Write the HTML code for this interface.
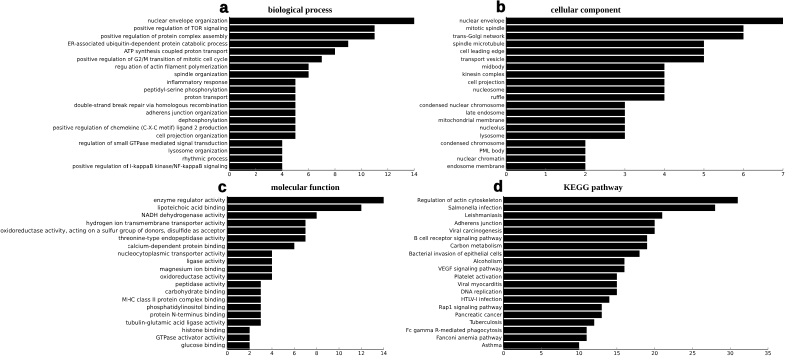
<!DOCTYPE html>
<html><head><meta charset="utf-8"><title>GO and KEGG enrichment</title>
<style>
html,body{margin:0;padding:0;background:#fff}
.stage{width:785px;height:356px;overflow:hidden;position:relative}
svg{display:block;text-rendering:geometricPrecision;will-change:transform;transform:scale(0.5);transform-origin:0 0}
.lab{font-family:"DejaVu Sans","Liberation Sans",sans-serif;fill:#000;text-anchor:end}
.tick{font-family:"DejaVu Sans","Liberation Sans",sans-serif;fill:#000;text-anchor:middle}
.ttl{font-family:"Liberation Serif",serif;font-weight:bold;fill:#000}
.pl{font-family:"Liberation Sans",sans-serif;font-weight:bold;fill:#000;stroke:#000;stroke-width:5;stroke-linejoin:round}
.bar{fill:#000}
.ax{stroke:#777;fill:none}
</style></head><body>
<div class="stage"><svg width="1570" height="712" viewBox="0 0 785 356">
<rect width="785" height="356" fill="#fff"/>

<g id="panel-a">
<text class="pl" transform="translate(219.50 12.40) scale(0.1)" font-size="157.0">a</text>
<text class="ttl" transform="translate(268 12.5) scale(0.1)" font-size="85.5">biological process</text>
<rect class="bar" x="229.00" y="17.65" width="185.20" height="6.45"/>
<text class="lab" transform="translate(227.60 22.56) scale(0.1)" font-size="52.7">nuclear envelope organization</text>
<rect class="bar" x="229.00" y="25.30" width="145.60" height="6.45"/>
<text class="lab" transform="translate(227.60 30.22) scale(0.1)" font-size="52.7">positive regulation of TOR signaling</text>
<rect class="bar" x="229.00" y="32.96" width="145.60" height="6.45"/>
<text class="lab" transform="translate(227.60 37.87) scale(0.1)" font-size="52.7">positive regulation of protein complex assembly</text>
<rect class="bar" x="229.00" y="40.62" width="119.20" height="6.45"/>
<text class="lab" transform="translate(227.60 45.53) scale(0.1)" font-size="52.7">ER-associated ubiquitin-dependent protein catabolic process</text>
<rect class="bar" x="229.00" y="48.27" width="106.00" height="6.45"/>
<text class="lab" transform="translate(227.60 53.18) scale(0.1)" font-size="52.7">ATP synthesis coupled proton transport</text>
<rect class="bar" x="229.00" y="55.93" width="92.80" height="6.45"/>
<text class="lab" transform="translate(227.60 60.84) scale(0.1)" font-size="52.7">positive regulation of G2/M transition of mitotic cell cycle</text>
<rect class="bar" x="229.00" y="63.58" width="79.60" height="6.45"/>
<text class="lab" transform="translate(227.60 68.49) scale(0.1)" font-size="52.7">regulation of actin filament polymerization</text>
<rect class="bar" x="229.00" y="71.23" width="79.60" height="6.45"/>
<text class="lab" transform="translate(227.60 76.15) scale(0.1)" font-size="52.7">spindle organization</text>
<rect class="bar" x="229.00" y="78.89" width="66.40" height="6.45"/>
<text class="lab" transform="translate(227.60 83.80) scale(0.1)" font-size="52.7">inflammatory response</text>
<rect class="bar" x="229.00" y="86.54" width="66.40" height="6.45"/>
<text class="lab" transform="translate(227.60 91.46) scale(0.1)" font-size="52.7">peptidyl-serine phosphorylation</text>
<rect class="bar" x="229.00" y="94.20" width="66.40" height="6.45"/>
<text class="lab" transform="translate(227.60 99.11) scale(0.1)" font-size="52.7">proton transport</text>
<rect class="bar" x="229.00" y="101.85" width="66.40" height="6.45"/>
<text class="lab" transform="translate(227.60 106.77) scale(0.1)" font-size="52.7">double-strand break repair via homologous recombination</text>
<rect class="bar" x="229.00" y="109.51" width="66.40" height="6.45"/>
<text class="lab" transform="translate(227.60 114.42) scale(0.1)" font-size="52.7">adherens junction organization</text>
<rect class="bar" x="229.00" y="117.16" width="66.40" height="6.45"/>
<text class="lab" transform="translate(227.60 122.08) scale(0.1)" font-size="52.7">dephosphorylation</text>
<rect class="bar" x="229.00" y="124.82" width="66.40" height="6.45"/>
<text class="lab" transform="translate(227.60 129.73) scale(0.1)" font-size="52.7">positive regulation of chemokine (C-X-C motif) ligand 2 production</text>
<rect class="bar" x="229.00" y="132.47" width="66.40" height="6.45"/>
<text class="lab" transform="translate(227.60 137.39) scale(0.1)" font-size="52.7">cell projection organization</text>
<rect class="bar" x="229.00" y="140.13" width="53.20" height="6.45"/>
<text class="lab" transform="translate(227.60 145.04) scale(0.1)" font-size="52.7">regulation of small GTPase mediated signal transduction</text>
<rect class="bar" x="229.00" y="147.78" width="53.20" height="6.45"/>
<text class="lab" transform="translate(227.60 152.70) scale(0.1)" font-size="52.7">lysosome organization</text>
<rect class="bar" x="229.00" y="155.44" width="53.20" height="6.45"/>
<text class="lab" transform="translate(227.60 160.35) scale(0.1)" font-size="52.7">rhythmic process</text>
<rect class="bar" x="229.00" y="163.09" width="53.20" height="6.45"/>
<text class="lab" transform="translate(227.60 168.01) scale(0.1)" font-size="52.7">positive regulation of I-kappaB kinase/NF-kappaB signaling</text>
<path class="ax" stroke-width="0.8" d="M229.40 170.3H414.20"/>
<path stroke="#111" fill="none" stroke-width="0.8" d="M229.40 16.85V170.3"/>
<path stroke="#000" fill="none" stroke-width="0.8" d="M229.40 170.3H282.20"/>
<text class="tick" transform="translate(229.40 175.9) scale(0.1)" font-size="52.5">0</text>
<text class="tick" transform="translate(255.80 175.9) scale(0.1)" font-size="52.5">2</text>
<text class="tick" transform="translate(282.20 175.9) scale(0.1)" font-size="52.5">4</text>
<text class="tick" transform="translate(308.60 175.9) scale(0.1)" font-size="52.5">6</text>
<text class="tick" transform="translate(335.00 175.9) scale(0.1)" font-size="52.5">8</text>
<text class="tick" transform="translate(361.40 175.9) scale(0.1)" font-size="52.5">10</text>
<text class="tick" transform="translate(387.80 175.9) scale(0.1)" font-size="52.5">12</text>
<text class="tick" transform="translate(414.20 175.9) scale(0.1)" font-size="52.5">14</text>
<path class="ax" stroke-width="0.5" d="M229.40 170.3v-2M255.80 170.3v-2M282.20 170.3v-2M308.60 170.3v-2M335.00 170.3v-2M361.40 170.3v-2M387.80 170.3v-2M414.20 170.3v-2"/>
</g>
<g id="panel-b">
<text class="pl" transform="translate(496.00 11.90) scale(0.1)" font-size="157.0">b</text>
<text class="ttl" transform="translate(550.8 12.5) scale(0.1)" font-size="85.5">cellular component</text>
<rect class="bar" x="505.90" y="17.65" width="277.11" height="6.45"/>
<text class="lab" transform="translate(504.50 22.55) scale(0.1)" font-size="52.2">nuclear envelope</text>
<rect class="bar" x="505.90" y="25.30" width="237.58" height="6.45"/>
<text class="lab" transform="translate(504.50 30.20) scale(0.1)" font-size="52.2">mitotic spindle</text>
<rect class="bar" x="505.90" y="32.96" width="237.58" height="6.45"/>
<text class="lab" transform="translate(504.50 37.86) scale(0.1)" font-size="52.2">trans-Golgi network</text>
<rect class="bar" x="505.90" y="40.62" width="198.05" height="6.45"/>
<text class="lab" transform="translate(504.50 45.51) scale(0.1)" font-size="52.2">spindle microtubule</text>
<rect class="bar" x="505.90" y="48.27" width="198.05" height="6.45"/>
<text class="lab" transform="translate(504.50 53.17) scale(0.1)" font-size="52.2">cell leading edge</text>
<rect class="bar" x="505.90" y="55.93" width="198.05" height="6.45"/>
<text class="lab" transform="translate(504.50 60.82) scale(0.1)" font-size="52.2">transport vesicle</text>
<rect class="bar" x="505.90" y="63.58" width="158.52" height="6.45"/>
<text class="lab" transform="translate(504.50 68.48) scale(0.1)" font-size="52.2">midbody</text>
<rect class="bar" x="505.90" y="71.23" width="158.52" height="6.45"/>
<text class="lab" transform="translate(504.50 76.13) scale(0.1)" font-size="52.2">kinesin complex</text>
<rect class="bar" x="505.90" y="78.89" width="158.52" height="6.45"/>
<text class="lab" transform="translate(504.50 83.79) scale(0.1)" font-size="52.2">cell projection</text>
<rect class="bar" x="505.90" y="86.54" width="158.52" height="6.45"/>
<text class="lab" transform="translate(504.50 91.44) scale(0.1)" font-size="52.2">nucleosome</text>
<rect class="bar" x="505.90" y="94.20" width="158.52" height="6.45"/>
<text class="lab" transform="translate(504.50 99.10) scale(0.1)" font-size="52.2">ruffle</text>
<rect class="bar" x="505.90" y="101.85" width="118.99" height="6.45"/>
<text class="lab" transform="translate(504.50 106.75) scale(0.1)" font-size="52.2">condensed nuclear chromosome</text>
<rect class="bar" x="505.90" y="109.51" width="118.99" height="6.45"/>
<text class="lab" transform="translate(504.50 114.41) scale(0.1)" font-size="52.2">late endosome</text>
<rect class="bar" x="505.90" y="117.16" width="118.99" height="6.45"/>
<text class="lab" transform="translate(504.50 122.06) scale(0.1)" font-size="52.2">mitochondrial membrane</text>
<rect class="bar" x="505.90" y="124.82" width="118.99" height="6.45"/>
<text class="lab" transform="translate(504.50 129.72) scale(0.1)" font-size="52.2">nucleolus</text>
<rect class="bar" x="505.90" y="132.47" width="118.99" height="6.45"/>
<text class="lab" transform="translate(504.50 137.37) scale(0.1)" font-size="52.2">lysosome</text>
<rect class="bar" x="505.90" y="140.13" width="79.46" height="6.45"/>
<text class="lab" transform="translate(504.50 145.03) scale(0.1)" font-size="52.2">condensed chromosome</text>
<rect class="bar" x="505.90" y="147.78" width="79.46" height="6.45"/>
<text class="lab" transform="translate(504.50 152.68) scale(0.1)" font-size="52.2">PML body</text>
<rect class="bar" x="505.90" y="155.44" width="79.46" height="6.45"/>
<text class="lab" transform="translate(504.50 160.34) scale(0.1)" font-size="52.2">nuclear chromatin</text>
<rect class="bar" x="505.90" y="163.09" width="79.46" height="6.45"/>
<text class="lab" transform="translate(504.50 167.99) scale(0.1)" font-size="52.2">endosome membrane</text>
<path class="ax" stroke-width="0.8" d="M506.30 170.3H783.01"/>
<path stroke="#111" fill="none" stroke-width="0.8" d="M506.30 16.85V170.3"/>
<path stroke="#000" fill="none" stroke-width="0.8" d="M506.30 170.3H585.36"/>
<text class="tick" transform="translate(506.30 175.9) scale(0.1)" font-size="52.5">0</text>
<text class="tick" transform="translate(545.83 175.9) scale(0.1)" font-size="52.5">1</text>
<text class="tick" transform="translate(585.36 175.9) scale(0.1)" font-size="52.5">2</text>
<text class="tick" transform="translate(624.89 175.9) scale(0.1)" font-size="52.5">3</text>
<text class="tick" transform="translate(664.42 175.9) scale(0.1)" font-size="52.5">4</text>
<text class="tick" transform="translate(703.95 175.9) scale(0.1)" font-size="52.5">5</text>
<text class="tick" transform="translate(743.48 175.9) scale(0.1)" font-size="52.5">6</text>
<text class="tick" transform="translate(783.01 175.9) scale(0.1)" font-size="52.5">7</text>
<path class="ax" stroke-width="0.5" d="M506.30 170.3v-2M545.83 170.3v-2M585.36 170.3v-2M624.89 170.3v-2M664.42 170.3v-2M703.95 170.3v-2M743.48 170.3v-2M783.01 170.3v-2"/>
</g>
<g id="panel-c">
<text class="pl" transform="translate(217.90 191.90) scale(0.1)" font-size="157.0">c</text>
<text class="ttl" transform="translate(271.0 190.0) scale(0.1)" font-size="85.0">molecular function</text>
<rect class="bar" x="226.90" y="196.92" width="156.78" height="6.45"/>
<text class="lab" transform="translate(225.20 201.93) scale(0.1)" font-size="55.8">enzyme regulator activity</text>
<rect class="bar" x="226.90" y="204.57" width="134.44" height="6.45"/>
<text class="lab" transform="translate(225.20 209.57) scale(0.1)" font-size="55.8">lipoteichoic acid binding</text>
<rect class="bar" x="226.90" y="212.21" width="89.76" height="6.45"/>
<text class="lab" transform="translate(225.20 217.22) scale(0.1)" font-size="55.8">NADH dehydrogenase activity</text>
<rect class="bar" x="226.90" y="219.86" width="78.59" height="6.45"/>
<text class="lab" transform="translate(225.20 224.87) scale(0.1)" font-size="55.8">hydrogen ion transmembrane transporter activity</text>
<rect class="bar" x="226.90" y="227.51" width="78.59" height="6.45"/>
<text class="lab" transform="translate(225.20 232.51) scale(0.1)" font-size="55.8">oxidoreductase activity, acting on a sulfur group of donors, disulfide as acceptor</text>
<rect class="bar" x="226.90" y="235.15" width="78.59" height="6.45"/>
<text class="lab" transform="translate(225.20 240.16) scale(0.1)" font-size="55.8">threonine-type endopeptidase activity</text>
<rect class="bar" x="226.90" y="242.80" width="67.42" height="6.45"/>
<text class="lab" transform="translate(225.20 247.81) scale(0.1)" font-size="55.8">calcium-dependent protein binding</text>
<rect class="bar" x="226.90" y="250.45" width="45.08" height="6.45"/>
<text class="lab" transform="translate(225.20 255.45) scale(0.1)" font-size="55.8">nucleocytoplasmic transporter activity</text>
<rect class="bar" x="226.90" y="258.09" width="45.08" height="6.45"/>
<text class="lab" transform="translate(225.20 263.10) scale(0.1)" font-size="55.8">ligase activity</text>
<rect class="bar" x="226.90" y="265.74" width="45.08" height="6.45"/>
<text class="lab" transform="translate(225.20 270.75) scale(0.1)" font-size="55.8">magnesium ion binding</text>
<rect class="bar" x="226.90" y="273.38" width="45.08" height="6.45"/>
<text class="lab" transform="translate(225.20 278.39) scale(0.1)" font-size="55.8">oxidoreductase activity</text>
<rect class="bar" x="226.90" y="281.03" width="33.91" height="6.45"/>
<text class="lab" transform="translate(225.20 286.04) scale(0.1)" font-size="55.8">peptidase activity</text>
<rect class="bar" x="226.90" y="288.68" width="33.91" height="6.45"/>
<text class="lab" transform="translate(225.20 293.69) scale(0.1)" font-size="55.8">carbohydrate binding</text>
<rect class="bar" x="226.90" y="296.32" width="33.91" height="6.45"/>
<text class="lab" transform="translate(225.20 301.33) scale(0.1)" font-size="55.8">MHC class II protein complex binding</text>
<rect class="bar" x="226.90" y="303.97" width="33.91" height="6.45"/>
<text class="lab" transform="translate(225.20 308.98) scale(0.1)" font-size="55.8">phosphatidylinositol binding</text>
<rect class="bar" x="226.90" y="311.62" width="33.91" height="6.45"/>
<text class="lab" transform="translate(225.20 316.62) scale(0.1)" font-size="55.8">protein N-terminus binding</text>
<rect class="bar" x="226.90" y="319.26" width="33.91" height="6.45"/>
<text class="lab" transform="translate(225.20 324.27) scale(0.1)" font-size="55.8">tubulin-glutamic acid ligase activity</text>
<rect class="bar" x="226.90" y="326.91" width="22.74" height="6.45"/>
<text class="lab" transform="translate(225.20 331.92) scale(0.1)" font-size="55.8">histone binding</text>
<rect class="bar" x="226.90" y="334.56" width="22.74" height="6.45"/>
<text class="lab" transform="translate(225.20 339.56) scale(0.1)" font-size="55.8">GTPase activator activity</text>
<rect class="bar" x="226.90" y="342.20" width="22.74" height="6.45"/>
<text class="lab" transform="translate(225.20 347.21) scale(0.1)" font-size="55.8">glucose binding</text>
<path class="ax" stroke-width="0.8" d="M227.30 349.45H383.68"/>
<path stroke="#111" fill="none" stroke-width="0.8" d="M227.30 196.12V349.45"/>
<path stroke="#000" fill="none" stroke-width="0.8" d="M227.30 349.45H249.64"/>
<text class="tick" transform="translate(227.30 354.9) scale(0.1)" font-size="52.5">0</text>
<text class="tick" transform="translate(249.64 354.9) scale(0.1)" font-size="52.5">2</text>
<text class="tick" transform="translate(271.98 354.9) scale(0.1)" font-size="52.5">4</text>
<text class="tick" transform="translate(294.32 354.9) scale(0.1)" font-size="52.5">6</text>
<text class="tick" transform="translate(316.66 354.9) scale(0.1)" font-size="52.5">8</text>
<text class="tick" transform="translate(339.00 354.9) scale(0.1)" font-size="52.5">10</text>
<text class="tick" transform="translate(361.34 354.9) scale(0.1)" font-size="52.5">12</text>
<text class="tick" transform="translate(383.68 354.9) scale(0.1)" font-size="52.5">14</text>
<path class="ax" stroke-width="0.5" d="M227.30 349.45v-2M249.64 349.45v-2M271.98 349.45v-2M294.32 349.45v-2M316.66 349.45v-2M339.00 349.45v-2M361.34 349.45v-2M383.68 349.45v-2"/>
</g>
<g id="panel-d">
<text class="pl" transform="translate(493.40 191.50) scale(0.1)" font-size="157.0">d</text>
<text class="ttl" transform="translate(563.6 190.0) scale(0.1)" font-size="85.5">KEGG pathway</text>
<rect class="bar" x="503.15" y="196.92" width="234.64" height="6.45"/>
<text class="lab" transform="translate(501.85 201.83) scale(0.1)" font-size="52.6">Regulation of actin cytoskeleton</text>
<rect class="bar" x="503.15" y="204.57" width="211.97" height="6.45"/>
<text class="lab" transform="translate(501.85 209.47) scale(0.1)" font-size="52.6">Salmonella infection</text>
<rect class="bar" x="503.15" y="212.21" width="159.08" height="6.45"/>
<text class="lab" transform="translate(501.85 217.12) scale(0.1)" font-size="52.6">Leishmaniasis</text>
<rect class="bar" x="503.15" y="219.86" width="151.52" height="6.45"/>
<text class="lab" transform="translate(501.85 224.77) scale(0.1)" font-size="52.6">Adherens junction</text>
<rect class="bar" x="503.15" y="227.51" width="151.52" height="6.45"/>
<text class="lab" transform="translate(501.85 232.41) scale(0.1)" font-size="52.6">Viral carcinogenesis</text>
<rect class="bar" x="503.15" y="235.15" width="143.96" height="6.45"/>
<text class="lab" transform="translate(501.85 240.06) scale(0.1)" font-size="52.6">B cell receptor signaling pathway</text>
<rect class="bar" x="503.15" y="242.80" width="143.96" height="6.45"/>
<text class="lab" transform="translate(501.85 247.71) scale(0.1)" font-size="52.6">Carbon metabolism</text>
<rect class="bar" x="503.15" y="250.45" width="136.41" height="6.45"/>
<text class="lab" transform="translate(501.85 255.35) scale(0.1)" font-size="52.6">Bacterial invasion of epithelial cells</text>
<rect class="bar" x="503.15" y="258.09" width="121.30" height="6.45"/>
<text class="lab" transform="translate(501.85 263.00) scale(0.1)" font-size="52.6">Alcoholism</text>
<rect class="bar" x="503.15" y="265.74" width="121.30" height="6.45"/>
<text class="lab" transform="translate(501.85 270.64) scale(0.1)" font-size="52.6">VEGF signaling pathway</text>
<rect class="bar" x="503.15" y="273.38" width="113.74" height="6.45"/>
<text class="lab" transform="translate(501.85 278.29) scale(0.1)" font-size="52.6">Platelet activation</text>
<rect class="bar" x="503.15" y="281.03" width="113.74" height="6.45"/>
<text class="lab" transform="translate(501.85 285.94) scale(0.1)" font-size="52.6">Viral myocarditis</text>
<rect class="bar" x="503.15" y="288.68" width="113.74" height="6.45"/>
<text class="lab" transform="translate(501.85 293.58) scale(0.1)" font-size="52.6">DNA replication</text>
<rect class="bar" x="503.15" y="296.32" width="106.18" height="6.45"/>
<text class="lab" transform="translate(501.85 301.23) scale(0.1)" font-size="52.6">HTLV-I infection</text>
<rect class="bar" x="503.15" y="303.97" width="98.63" height="6.45"/>
<text class="lab" transform="translate(501.85 308.88) scale(0.1)" font-size="52.6">Rap1 signaling pathway</text>
<rect class="bar" x="503.15" y="311.62" width="98.63" height="6.45"/>
<text class="lab" transform="translate(501.85 316.52) scale(0.1)" font-size="52.6">Pancreatic cancer</text>
<rect class="bar" x="503.15" y="319.26" width="91.07" height="6.45"/>
<text class="lab" transform="translate(501.85 324.17) scale(0.1)" font-size="52.6">Tuberculosis</text>
<rect class="bar" x="503.15" y="326.91" width="83.52" height="6.45"/>
<text class="lab" transform="translate(501.85 331.82) scale(0.1)" font-size="52.6">Fc gamma R-mediated phagocytosis</text>
<rect class="bar" x="503.15" y="334.56" width="83.52" height="6.45"/>
<text class="lab" transform="translate(501.85 339.46) scale(0.1)" font-size="52.6">Fanconi anemia pathway</text>
<rect class="bar" x="503.15" y="342.20" width="75.96" height="6.45"/>
<text class="lab" transform="translate(501.85 347.11) scale(0.1)" font-size="52.6">Asthma</text>
<path class="ax" stroke-width="0.8" d="M503.55 349.45H768.01"/>
<path stroke="#111" fill="none" stroke-width="0.8" d="M503.55 196.12V349.45"/>
<path stroke="#000" fill="none" stroke-width="0.8" d="M503.55 349.45H579.11"/>
<text class="tick" transform="translate(503.55 354.9) scale(0.1)" font-size="52.5">0</text>
<text class="tick" transform="translate(541.33 354.9) scale(0.1)" font-size="52.5">5</text>
<text class="tick" transform="translate(579.11 354.9) scale(0.1)" font-size="52.5">10</text>
<text class="tick" transform="translate(616.89 354.9) scale(0.1)" font-size="52.5">15</text>
<text class="tick" transform="translate(654.67 354.9) scale(0.1)" font-size="52.5">20</text>
<text class="tick" transform="translate(692.45 354.9) scale(0.1)" font-size="52.5">25</text>
<text class="tick" transform="translate(730.23 354.9) scale(0.1)" font-size="52.5">30</text>
<text class="tick" transform="translate(768.01 354.9) scale(0.1)" font-size="52.5">35</text>
<path class="ax" stroke-width="0.5" d="M503.55 349.45v-2M541.33 349.45v-2M579.11 349.45v-2M616.89 349.45v-2M654.67 349.45v-2M692.45 349.45v-2M730.23 349.45v-2M768.01 349.45v-2"/>
</g>
</svg></div></body></html>
